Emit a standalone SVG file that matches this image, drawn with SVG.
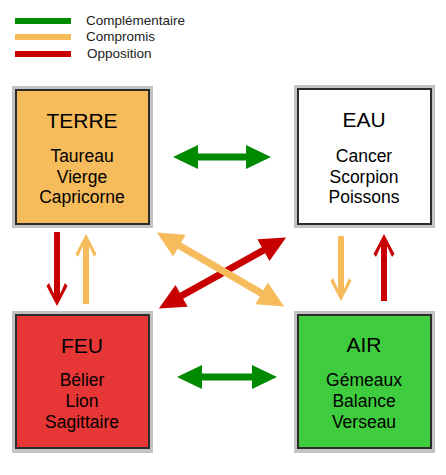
<svg xmlns="http://www.w3.org/2000/svg" xmlns:xlink="http://www.w3.org/1999/xlink" width="446" height="475" viewBox="0 0 446 475">
<style>
.t{font-family:"Liberation Sans",Arial,sans-serif;fill:#000;text-anchor:middle}
.ttl{font-size:21px}
.sub{font-size:17.5px}
.lg{font-family:"Liberation Sans",Arial,sans-serif;font-size:13.5px;fill:#222}
.frame{fill:#c3c3c3}
.inner{stroke:#2c2c2c;stroke-width:2}
.g{stroke:#008a00;stroke-width:7;fill:none}
.o{stroke:#f6bc5c;stroke-width:7;fill:none}
.r{stroke:#c80000;stroke-width:7;fill:none}
</style>
<defs>
<marker id="hg" markerUnits="userSpaceOnUse" markerWidth="30" markerHeight="30" viewBox="0 -15 30 30" refX="1" refY="0" orient="auto-start-reverse" overflow="visible"><path d="M0,-12 L25,0 L0,12 Z" fill="#008a00"/></marker>
<marker id="ho" markerUnits="userSpaceOnUse" markerWidth="30" markerHeight="30" viewBox="0 -15 30 30" refX="1" refY="0" orient="auto-start-reverse" overflow="visible"><path d="M0,-12.5 L26,0 L0,12.5 Z" fill="#f6bc5c"/></marker>
<marker id="hr" markerUnits="userSpaceOnUse" markerWidth="30" markerHeight="30" viewBox="0 -15 30 30" refX="1" refY="0" orient="auto-start-reverse" overflow="visible"><path d="M0,-12.5 L26,0 L0,12.5 Z" fill="#c80000"/></marker>
<path id="chev" d="M-3,-12 L-8,-23 L-10.5,-20 L0,0 L10.5,-20 L8,-23 L3,-12 Z"/>
</defs>

<g id="legend">
<rect x="15" y="18" width="56" height="6" fill="#008a00"/>
<rect x="15" y="34" width="56" height="6" fill="#f6bc5c"/>
<rect x="15" y="51" width="56" height="6" fill="#c80000"/>
<text class="lg" x="86" y="25">Complémentaire</text>
<text class="lg" x="86" y="41">Compromis</text>
<text class="lg" x="87" y="58">Opposition</text>
</g>

<g id="terre">
<rect class="frame" x="12" y="86" width="141" height="142"/>
<rect class="inner" x="16" y="90" width="133" height="134" fill="#f6bc5c"/>
<text class="t ttl" x="82" y="128">TERRE</text>
<text class="t sub" x="82" y="162">Taureau</text>
<text class="t sub" x="82" y="182.5">Vierge</text>
<text class="t sub" x="82" y="203">Capricorne</text>
</g>

<g id="eau">
<rect class="frame" x="294" y="85" width="141" height="143"/>
<rect class="inner" x="298" y="89" width="133" height="135" fill="#ffffff"/>
<text class="t ttl" x="364" y="127">EAU</text>
<text class="t sub" x="364" y="162">Cancer</text>
<text class="t sub" x="364" y="182.5">Scorpion</text>
<text class="t sub" x="364" y="203">Poissons</text>
</g>

<g id="feu">
<rect class="frame" x="12" y="311" width="141" height="142"/>
<rect class="inner" x="16" y="315" width="133" height="133" fill="#e63636"/>
<text class="t ttl" x="82" y="353">FEU</text>
<text class="t sub" x="82" y="386">Bélier</text>
<text class="t sub" x="82" y="407">Lion</text>
<text class="t sub" x="82" y="428">Sagittaire</text>
</g>

<g id="air">
<rect class="frame" x="294" y="311" width="141" height="142"/>
<rect class="inner" x="298" y="315" width="133" height="133" fill="#3fcc3f"/>
<text class="t ttl" x="364" y="352">AIR</text>
<text class="t sub" x="364" y="386">Gémeaux</text>
<text class="t sub" x="364" y="407">Balance</text>
<text class="t sub" x="364" y="428">Verseau</text>
</g>

<g id="connectors">
<line class="g" x1="197" y1="157" x2="247" y2="157" marker-start="url(#hg)" marker-end="url(#hg)"/>
<line class="g" x1="201" y1="377" x2="253" y2="377" marker-start="url(#hg)" marker-end="url(#hg)"/>
<line class="r" x1="180.7" y1="296.3" x2="264.3" y2="249.7" marker-start="url(#hr)" marker-end="url(#hr)"/>
<line class="o" x1="178.5" y1="245.1" x2="262.5" y2="293.9" marker-start="url(#ho)" marker-end="url(#ho)"/>
<g fill="#c80000" transform="translate(57,306)"><rect x="-3" y="-74" width="6" height="63"/><use xlink:href="#chev"/></g>
<g fill="#f6bc5c" transform="translate(86,234) rotate(180)"><rect x="-3" y="-70" width="6" height="59"/><use xlink:href="#chev"/></g>
<g fill="#f6bc5c" transform="translate(341,301)"><rect x="-3" y="-65" width="6" height="54"/><use xlink:href="#chev"/></g>
<g fill="#c80000" transform="translate(384,234) rotate(180)"><rect x="-3" y="-67" width="6" height="56"/><use xlink:href="#chev"/></g>
</g>
</svg>
